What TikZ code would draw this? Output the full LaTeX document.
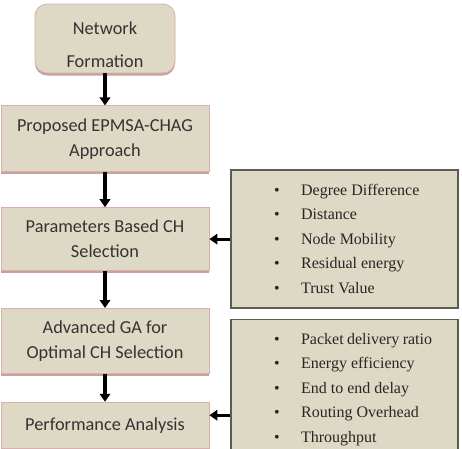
\documentclass[tikz,border=0pt]{standalone}
\usepackage{fontspec}
\setmainfont{Liberation Serif}
\newfontfamily\calibri{Carlito}
\usetikzlibrary{positioning,arrows.meta,shadows}
\definecolor{boxfill}{HTML}{DDD9C4}
\definecolor{boxline}{HTML}{D8AFAD}
\definecolor{boxshade}{HTML}{C9A09E}
\definecolor{listline}{HTML}{5E5B55}
\tikzset{
  stepbox/.style={rectangle, draw=boxline, line width=0.8pt, fill=boxfill,
    minimum width=208pt, minimum height=64pt, align=center,
    font=\calibri\fontsize{18.3}{25}\selectfont, text=black!80,
    drop shadow={shadow xshift=0pt, shadow yshift=-2.5pt, fill=boxshade, opacity=1}},
  listbox/.style={rectangle, draw=listline, line width=1.4pt, fill=boxfill,
    minimum width=227pt, minimum height=138pt,
    font=\fontsize{16}{24.5}\selectfont, text=black!85},
  flow/.style={-{Triangle[width=10.5pt,length=8pt]}, line width=3.4pt}
}
\newcommand{\itm}[1]{\makebox[27pt][l]{\textbullet}#1}
\begin{document}
\begin{tikzpicture}
\useasboundingbox (0,0) rectangle (462pt,-448pt);
% left column
\node[stepbox, rounded corners=12pt, minimum width=140pt, minimum height=69pt,
  font=\calibri\fontsize{18.3}{33}\selectfont] (net) at (105pt,-38.5pt) {\rule{0pt}{25pt}Network\\Formation};
\node[stepbox, minimum height=66pt, below=32pt of net] (prop) {Proposed EPMSA-CHAG\\Approach};
\node[stepbox, minimum height=63pt, below=35pt of prop] (param) {Parameters Based CH\\Selection};
\node[stepbox, minimum height=65pt, below=37pt of param] (adv) {Advanced GA for\\Optimal CH Selection};
\node[stepbox, minimum height=46pt, below=28pt of adv] (perf) {Performance Analysis};
% right column
\node[listbox, right=21pt of param] (crit) {\hspace{17pt}\begin{tabular}{@{}p{158pt}@{}}
  \itm{Degree Difference}\\ \itm{Distance}\\ \itm{Node Mobility}\\
  \itm{Residual energy}\\ \itm{Trust Value}\end{tabular}};
\node[listbox, below=10pt of crit] (metr) {\hspace{17pt}\begin{tabular}{@{}p{158pt}@{}}
  \itm{Packet delivery ratio}\\ \itm{Energy efficiency}\\ \itm{End to end delay}\\
  \itm{Routing Overhead}\\ \itm{Throughput}\end{tabular}};
% arrows
\draw[flow] (net) -- (prop);
\draw[flow] (prop) -- (param);
\draw[flow] (param) -- (adv);
\draw[flow] (adv) -- (perf);
\draw[flow, line width=2.8pt] (crit.west) -- (param.east |- crit.west);
\draw[flow, line width=2.8pt] ([yshift=10pt]perf.east -| metr.west) -- ([yshift=10pt]perf.east);
\end{tikzpicture}
\end{document}
